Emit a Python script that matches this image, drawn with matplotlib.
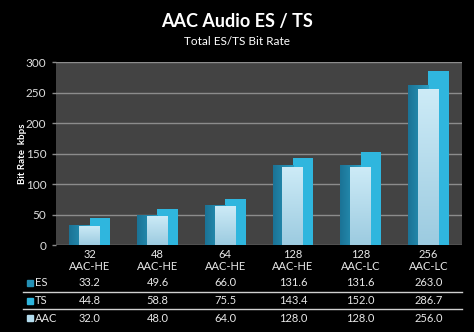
import numpy as np
import matplotlib
matplotlib.use("Agg")
import matplotlib.pyplot as plt
from matplotlib.patches import Rectangle

# -------------------------
# Data
# -------------------------

bitrates = ["32", "48", "64", "128", "128", "256"]
profiles = ["AAC-HE", "AAC-HE", "AAC-HE", "AAC-HE", "AAC-LC", "AAC-LC"]

es_values = [33.2, 49.6, 66.0, 131.6, 131.6, 263.0]
ts_values = [44.8, 58.8, 75.5, 143.4, 152.0, 286.7]
aac_values = [32.0, 48.0, 64.0, 128.0, 128.0, 256.0]

series_names = ["ES", "TS", "AAC"]
series_colors = ["#2490b4", "#2fb6de", "#b3dcee"]

# -------------------------
# Figure
# -------------------------

plt.rcParams['font.family'] = ['Lato', 'DejaVu Sans']

fig = plt.figure(figsize=(4.74, 3.32), dpi=100)
fig.patch.set_facecolor("black")

ax = fig.add_axes([0.118, 0.262, 0.857, 0.55])
ax.set_facecolor("#434343")

x = np.arange(len(bitrates))
w = 0.3

es_bars = ax.bar(x - 0.15, es_values, width=w, color=series_colors[0], zorder=2)
ax.bar(x + 0.15, ts_values, width=w, color=series_colors[1], zorder=2)
aac_bars = ax.bar(x, aac_values, width=0.31, color=series_colors[2], zorder=3)

# horizontal shading on the back ES bars, vertical on the front bars
hgrad = np.linspace(0.0, 1.0, 50).reshape(1, -1)
es_cmap = matplotlib.colors.LinearSegmentedColormap.from_list("e", ["#1b7396", "#2a9cc0"])
for b in es_bars:
    x0, y0 = b.get_x(), b.get_y()
    img = ax.imshow(hgrad, extent=[x0, x0 + b.get_width(), y0, y0 + b.get_height()],
                    cmap=es_cmap, aspect="auto", origin="lower", zorder=2)
    img.set_clip_path(b)

grad = np.linspace(0.0, 1.0, 100).reshape(-1, 1)
aac_cmap = matplotlib.colors.LinearSegmentedColormap.from_list("g", ["#9ccbe0", "#cdebf7"])
for b in aac_bars:
    x0, y0 = b.get_x(), b.get_y()
    img = ax.imshow(grad, extent=[x0, x0 + b.get_width(), y0, y0 + b.get_height()],
                    cmap=aac_cmap, aspect="auto", origin="lower", zorder=3)
    img.set_clip_path(b)

ax.set_xlim(-0.5, len(bitrates) - 0.5)
ax.set_ylim(0, 300)
ax.set_yticks([0, 50, 100, 150, 200, 250, 300])
ax.yaxis.grid(True, color="#8c8c8c", linewidth=1.0, zorder=1)
ax.set_axisbelow(True)
ax.set_xticks([])

ax.tick_params(axis="y", colors="#8c8c8c", labelcolor="#dcdcdc",
               length=3, width=1, labelsize=8.5, pad=4)
for s in ax.spines.values():
    s.set_visible(False)

ax.set_ylabel("Bit Rate  kbps", color="white", fontsize=7, fontweight="bold")
ax.yaxis.set_label_coords(-0.071, 0.5)

# -------------------------
# Titles
# -------------------------

fig.text(0.5, 0.935, "AAC Audio ES / TS", color="white", fontsize=13,
         fontweight="bold", ha="center", va="center")
fig.text(0.5, 0.875, "Total ES/TS Bit Rate", color="white", fontsize=8.5,
         ha="center", va="center")

# -------------------------
# Data table
# -------------------------

def fy(py):
    return 1 - py / 332.0

for i in range(len(bitrates)):
    ax.annotate(bitrates[i], (x[i], fy(254)), xycoords=("data", "figure fraction"),
                color="#e8e8e8", fontsize=8, ha="center", va="center")
    ax.annotate(profiles[i], (x[i], fy(267)), xycoords=("data", "figure fraction"),
                color="#e8e8e8", fontsize=8, ha="center", va="center")

rows = [es_values, ts_values, aac_values]
row_y = [283, 301, 318]
for r, vals in enumerate(rows):
    for i, v in enumerate(vals):
        ax.annotate("%.1f" % v, (x[i], fy(row_y[r])),
                    xycoords=("data", "figure fraction"),
                    color="#e8e8e8", fontsize=8, ha="center", va="center")
    fig.patches.append(Rectangle((27 / 474, fy(row_y[r]) - 3 / 332), 6 / 474, 6 / 332,
                                 transform=fig.transFigure, color=series_colors[r]))
    fig.text(35 / 474, fy(row_y[r]), series_names[r], color="#e8e8e8",
             fontsize=8, ha="left", va="center")

for py in [292, 309]:
    fig.add_artist(plt.Line2D([23 / 474, 462 / 474], [fy(py), fy(py)],
                              transform=fig.transFigure, color="#d0d0d0", linewidth=1))

fig.savefig("out.png", dpi=100, facecolor=fig.get_facecolor())
